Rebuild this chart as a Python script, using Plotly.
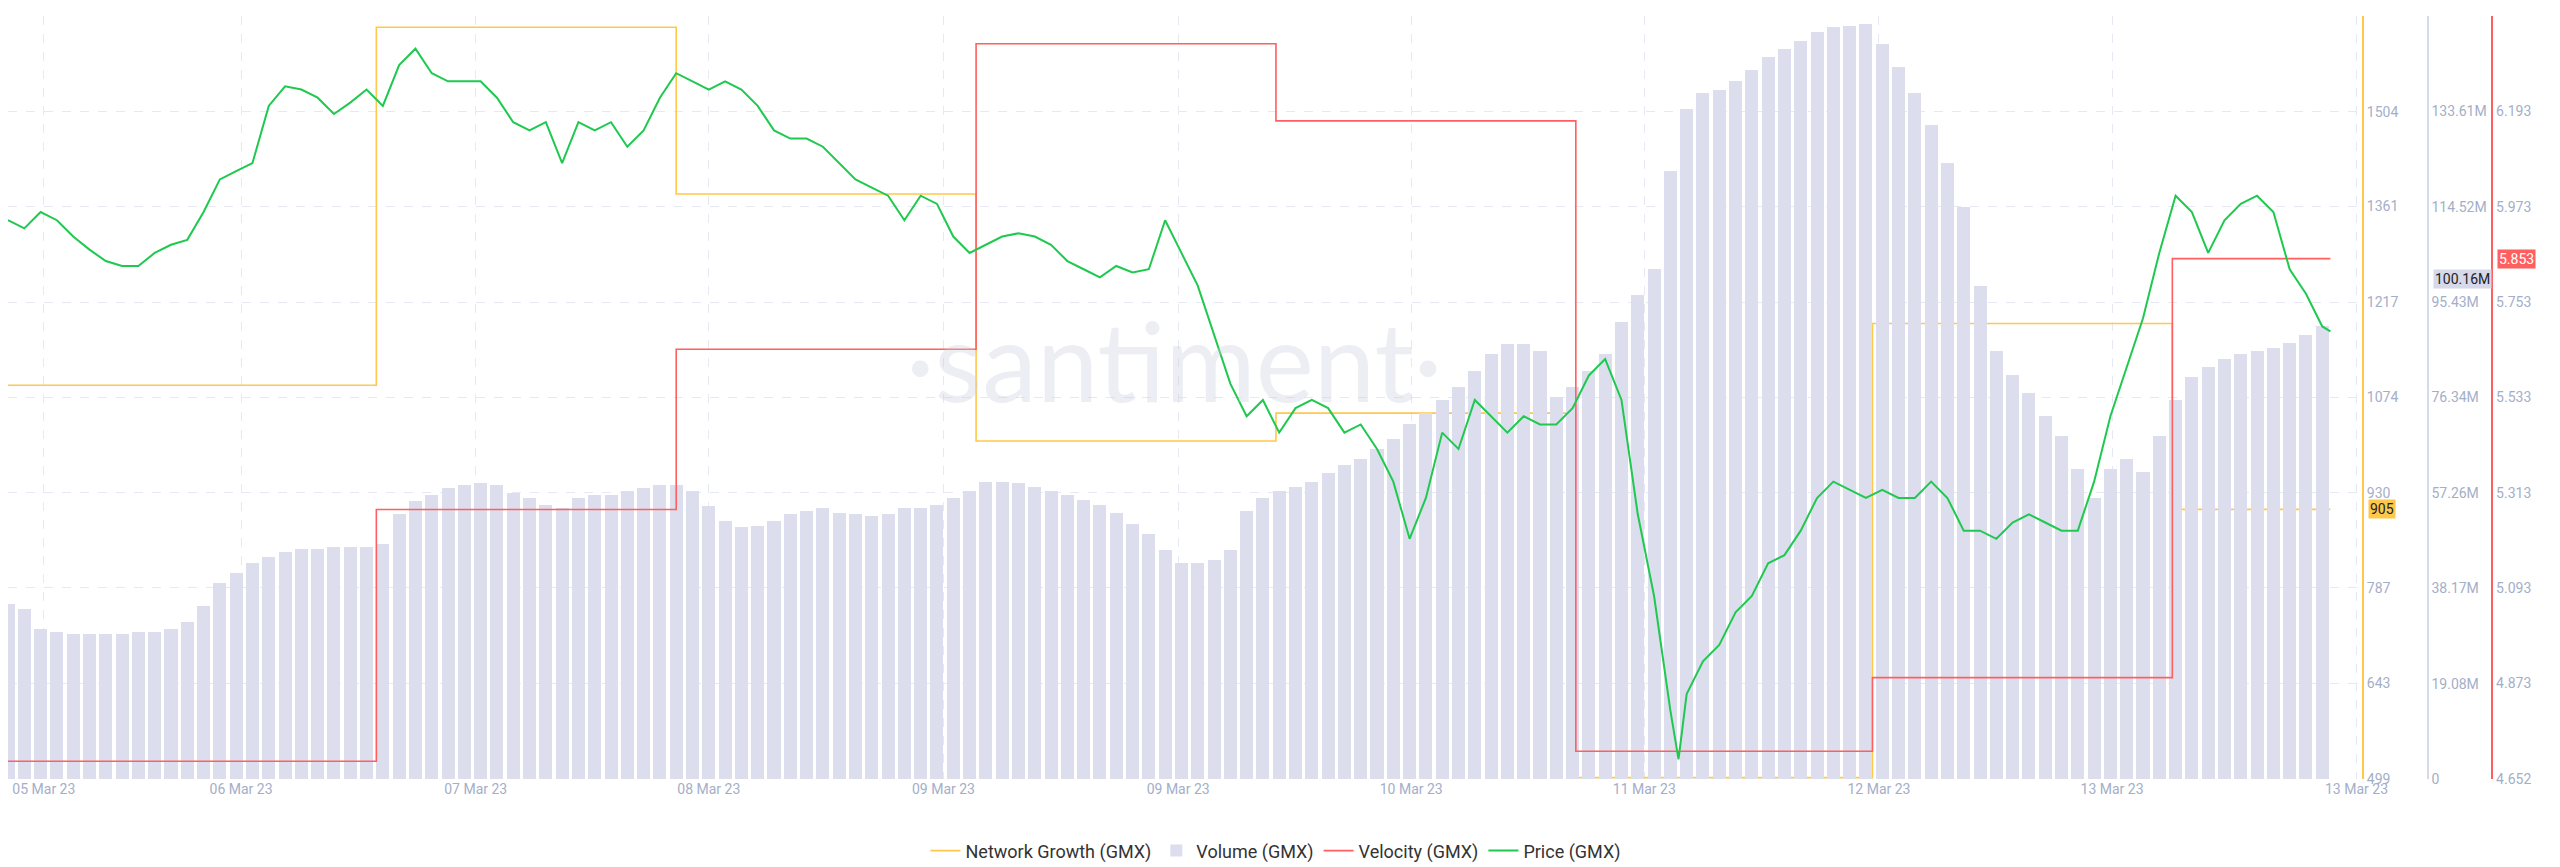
import plotly.graph_objects as go

# x positions are in hours since 05 Mar 00:00 (143.5 px per 24h)
PX2H = 24 / 143.5
tick_px = [22, 143, 287, 430, 574, 718, 861, 1004, 1148, 1291, 1441]
tick_labels = ["05 Mar 23", "06 Mar 23", "07 Mar 23", "08 Mar 23", "09 Mar 23", "09 Mar 23",
               "10 Mar 23", "11 Mar 23", "12 Mar 23", "13 Mar 23", "13 Mar 23"]

# Network growth steps (start px, value)
ng_px = [0, 226, 410, 594, 778, 962, 1144, 1328, 1425]
ng_val = [1092, 1631, 1380, 1008, 1050, 501, 1185, 905, 905]
# Velocity steps
vel_px = [0, 226, 410, 594, 778, 962, 1144, 1328, 1425]
vel_val = [4.693, 5.274, 5.644, 6.349, 6.171, 4.716, 4.886, 5.853, 5.853]

# Price (USD) read points: px, height-px from top
price_px = [0,10,20,30,40,50,60,70,80,90,100,110,120,130,140,150,160,170,180,190,200,210,220,230,240,250,260,270,280,290,300,310,320,330,340,350,360,370,380,390,400,410,420,430,440,450,460,470,480,490,500,510,520,530,540,550,560,570,580,590,600,610,620,630,640,650,660,670,680,690,700,710,720,730,740,750,760,770,780,790,800,810,820,830,840,850,860,870,880,890,900,910,920,930,940,950,960,970,980,990,1000,1010,1020,1025,1030,1040,1050,1060,1070,1080,1090,1100,1110,1120,1130,1140,1150,1160,1170,1180,1190,1200,1210,1220,1230,1240,1250,1260,1270,1280,1290,1300,1310,1320,1330,1340,1350,1360,1370,1380,1390,1400,1410,1420,1425]
price_ypx = [130,135,125,130,140,148,155,158,158,150,145,142,125,105,100,95,60,48,50,55,65,58,50,60,35,25,40,45,45,45,55,70,75,70,95,70,75,70,85,75,55,40,45,50,45,50,60,75,80,80,85,95,105,110,115,130,115,120,140,150,145,140,138,140,145,155,160,165,158,162,160,130,150,170,200,230,250,240,260,245,240,245,260,255,270,290,325,300,260,270,240,250,260,250,255,255,245,225,215,240,310,360,430,460,420,400,390,370,360,340,335,320,300,290,295,300,295,300,300,290,300,320,320,325,315,310,315,320,320,290,250,220,190,150,115,125,150,130,120,115,125,160,175,195,198]

# Volume bar tops (height px from top), every 10 px
vol_ypx = [365,368,380,382,383,383,383,383,382,382,380,376,366,352,346,340,336,333,331,331,330,330,330,328,310,302,298,294,292,291,292,297,300,304,306,300,298,298,296,294,292,292,296,305,314,318,317,314,310,308,306,309,310,311,310,306,306,304,300,296,290,290,291,293,296,298,301,304,309,316,322,332,340,340,338,332,308,300,296,293,290,285,280,276,270,264,255,248,240,232,222,212,206,206,210,238,232,222,212,192,176,160,100,62,52,50,45,38,30,25,20,15,12,11,10,22,36,52,72,95,122,170,210,225,236,250,262,282,300,282,276,284,262,240,226,220,215,212,210,208,205,200,195]

TOP, BOT = 5, 472
def h(px): return [p * PX2H for p in px]
price = [80 - (y - TOP) / (BOT - TOP) * 20 for y in price_ypx]
volume = [(BOT - y) / (BOT - TOP) * 152.69e6 for y in vol_ypx]
vol_x = [i * 10 * PX2H for i in range(len(vol_ypx))]

YEL, GRAY, RED, GRN = "#ffc84a", "#d6d9ea", "#ff5f5f", "#1fc94f"
TK = dict(color="#a4aec8", size=14, family="Roboto")

fig = go.Figure()
fig.add_trace(go.Bar(x=vol_x, y=volume, name="Volume (GMX)", marker_color="#dcdeee",
                     marker_line_width=0, yaxis="y2", width=10 * PX2H * 0.8, legendrank=2))
fig.add_trace(go.Scatter(x=h(ng_px), y=ng_val, name="Network Growth (GMX)", mode="lines",
                         line=dict(color=YEL, width=1.6, shape="hv"), yaxis="y", legendrank=1))
fig.add_trace(go.Scatter(x=h(vel_px), y=vel_val, name="Velocity (GMX)", mode="lines",
                         line=dict(color=RED, width=1.6, shape="hv"), yaxis="y3", legendrank=3))
fig.add_trace(go.Scatter(x=h(price_px), y=price, name="Price (GMX)", mode="lines",
                         line=dict(color=GRN, width=2), yaxis="y4", legendrank=4))

XEND = 0.929
P2, P3 = 0.9545, 0.98
fig.update_layout(
    width=2560, height=867, paper_bgcolor="white", plot_bgcolor="white",
    margin=dict(l=0, r=0, t=8, b=96), bargap=0, showlegend=True,
    legend=dict(orientation="h", x=0.5, xanchor="center", y=-0.07, yanchor="top",
                font=dict(size=18, color="#333", family="Roboto")),
    xaxis=dict(domain=[0, XEND], range=[0, 1445 * PX2H], tickmode="array",
               tickvals=h(tick_px), ticktext=tick_labels, tickfont=TK, showgrid=True,
               gridcolor="#e6e8f2", griddash="dash", zeroline=False, showline=False, ticks=""),
    yaxis=dict(range=[499, 1648], side="right", anchor="free", position=XEND,
               tickvals=[499, 643, 787, 930, 1074, 1217, 1361, 1504, 1648], tickfont=TK,
               showline=True, linecolor=YEL, linewidth=2, gridcolor="#e6e8f2", griddash="dash",
               zeroline=False),
    yaxis2=dict(range=[0, 152.69e6], side="right", overlaying="y", anchor="free", position=P2,
                tickvals=[0, 19.08e6, 38.17e6, 57.26e6, 76.34e6, 95.43e6, 114.52e6, 133.61e6, 152.69e6],
                ticktext=["0", "19.08M", "38.17M", "57.26M", "76.34M", "95.43M", "114.52M", "133.61M", "152.69M"],
                tickfont=TK, showline=True, linecolor=GRAY, linewidth=2, showgrid=False, zeroline=False),
    yaxis3=dict(range=[4.652, 6.413], side="right", overlaying="y", anchor="free", position=P3,
                tickvals=[4.652, 4.873, 5.093, 5.313, 5.533, 5.753, 5.973, 6.193, 6.413],
                ticktext=["4.652", "4.873", "5.093", "5.313", "5.533", "5.753", "5.973", "6.193", "6.413"],
                tickfont=TK, showline=True, linecolor=RED, linewidth=2, showgrid=False, zeroline=False),
    yaxis4=dict(range=[60, 80], overlaying="y", visible=False),
)
fig.add_annotation(text="·santiment·", xref="paper", yref="paper", x=0.46, y=0.55,
                   showarrow=False, font=dict(size=110, color="rgba(200,205,222,0.35)", family="Lato"))
for txt, yv, yr, bg, xp in [("905", 905, "y", YEL, XEND + 0.002), ("100.16M", 100.16e6, "y2", GRAY, P2 + 0.002),
                            ("5.853", 5.853, "y3", RED, P3 + 0.002)]:
    fig.add_annotation(text=txt, xref="paper", yref=yr, x=xp, y=yv, xanchor="left", showarrow=False,
                       bgcolor=bg, font=dict(size=14, color="white" if bg == RED else "#222", family="Roboto"),
                       borderpad=1)
fig.write_html("out.html")
